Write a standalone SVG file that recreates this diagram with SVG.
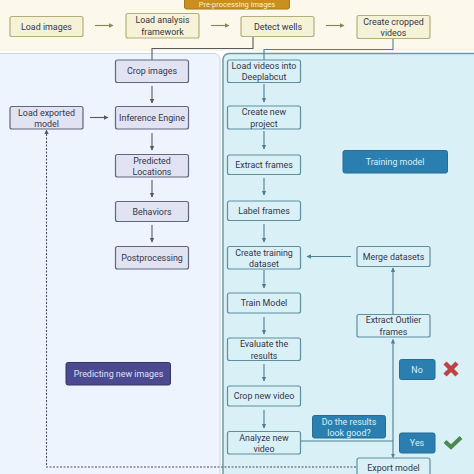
<svg xmlns="http://www.w3.org/2000/svg" width="474" height="474" viewBox="0 0 474 474">
<style>
text{font-family:Roboto,"Liberation Sans",sans-serif;font-size:8.900px;text-anchor:middle;fill:#33364a}
.y{fill:#f5f2d8;stroke:#b4ae78;stroke-width:1.200}
.p{fill:#e1e3f2;stroke:#62667f;stroke-width:1.200}
.b{fill:#daf0f7;stroke:#5f8f9f;stroke-width:1.200}
.l{fill:none;stroke:#57595f;stroke-width:1.100}
.o{fill:none;stroke:#8a8456;stroke-width:1.100}
.t{fill:none;stroke:#4f8091;stroke-width:1.100}
.w{fill:#d6eff9}
.hd{fill:#2a7fb0;stroke:#236d97;stroke-width:1}
</style>
<defs>
<marker id="ay" markerWidth="6" markerHeight="6" refX="4" refY="2.500" orient="auto" markerUnits="userSpaceOnUse"><path d="M0 0.300L4.500 2.500L0 4.700z" fill="#8a8456"/></marker>
<marker id="ag" markerWidth="6" markerHeight="6" refX="4" refY="2.500" orient="auto" markerUnits="userSpaceOnUse"><path d="M0 0.300L4.500 2.500L0 4.700z" fill="#57595f"/></marker>
<marker id="at" markerWidth="6" markerHeight="6" refX="4" refY="2.500" orient="auto" markerUnits="userSpaceOnUse"><path d="M0 0.300L4.500 2.500L0 4.700z" fill="#4f8091"/></marker>
</defs>
<rect width="474" height="474" fill="#fff"/>
<rect x="-5" y="-10" width="484" height="60" rx="6" fill="#fcf9ec" stroke="#f1eeda"/>
<rect x="-5" y="53.500" width="225" height="430" rx="6" fill="#eef4fd" stroke="#c9d5e2"/>
<rect x="223" y="53.500" width="256" height="430" rx="6" fill="#d9f0f7" stroke="#6f98a5" stroke-width="1.500"/>
<g id="connectors">
<path class="o" d="M95 25.500H113" marker-end="url(#ay)"/>
<path class="o" d="M211 25.500H229" marker-end="url(#ay)"/>
<path class="o" d="M326 25.500H344" marker-end="url(#ay)"/>
<path class="l" d="M253 37V48.500H152V60"/>
<path class="t" d="M393 39V49.500H264V60"/>
<path class="l" d="M152 86V103" marker-end="url(#ag)"/>
<path class="l" d="M90 117.500H108" marker-end="url(#ag)"/>
<path class="l" d="M152 133V150" marker-end="url(#ag)"/>
<path class="l" d="M152 180V197" marker-end="url(#ag)"/>
<path class="l" d="M152 225V242" marker-end="url(#ag)"/>
<path class="t" d="M264 84V102" marker-end="url(#at)"/>
<path class="t" d="M264 131V149" marker-end="url(#at)"/>
<path class="t" d="M264 178V195" marker-end="url(#at)"/>
<path class="t" d="M264 224V242" marker-end="url(#at)"/>
<path class="t" d="M264 270V288" marker-end="url(#at)"/>
<path class="t" d="M264 317V334" marker-end="url(#at)"/>
<path class="t" d="M264 364V381" marker-end="url(#at)"/>
<path class="t" d="M264 410V428" marker-end="url(#at)"/>
<path class="t" d="M351 256.500H307" marker-end="url(#at)"/>
<path class="t" d="M393 315V268" marker-end="url(#at)"/>
<path class="t" d="M300 441H393"/>
<path class="t" d="M393 441V457.500" marker-end="url(#at)"/>
<path class="t" d="M393 441V339.500" marker-end="url(#at)"/>
<path d="M356 467H46.500V130" fill="none" stroke="#4a4d63" stroke-width="1.100" stroke-dasharray="2 1.500" marker-end="url(#ag)"/>
</g>
<g id="prep-title"><rect x="184.500" y="-8" width="105" height="17" rx="2" fill="#c98f1f" stroke="#a8771a"/><text x="237" y="6.500" style="fill:#fbeecb;font-size:7.500px">Pre-processing images</text></g>
<g id="load-images"><rect class="y" x="10" y="16.500" width="73" height="20" rx="2"/><text x="46.500" y="29.500">Load images</text></g>
<g id="load-framework"><rect class="y" x="126" y="13.500" width="73" height="24.500" rx="2"/><text x="162.500" y="23">Load analysis</text><text x="162.500" y="34.500">framework</text></g>
<g id="detect-wells"><rect class="y" x="241" y="16.500" width="73" height="20" rx="2"/><text x="278" y="29.500">Detect wells</text></g>
<g id="cropped-videos"><rect class="y" x="357" y="15.500" width="73" height="23" rx="2"/><text x="393.500" y="24.500">Create cropped</text><text x="393.500" y="36">videos</text></g>
<g id="crop-images"><rect class="p" x="115.500" y="60" width="73" height="22.500" rx="2"/><text x="152" y="74">Crop images</text></g>
<g id="load-exported"><rect class="p" x="10" y="106.500" width="73" height="22.500" rx="2"/><text x="46.500" y="115.500">Load exported</text><text x="46.500" y="127">model</text></g>
<g id="inference"><rect class="p" x="115.500" y="106.500" width="73" height="22.500" rx="2"/><text x="152" y="121">Inference Engine</text></g>
<g id="predicted"><rect class="p" x="115.500" y="154.500" width="73" height="22.500" rx="2"/><text x="152" y="163.500">Predicted</text><text x="152" y="174.500">Locations</text></g>
<g id="behaviors"><rect class="p" x="115.500" y="201.500" width="73" height="20" rx="2"/><text x="152" y="214.500">Behaviors</text></g>
<g id="postprocessing"><rect class="p" x="115.500" y="246.500" width="73" height="22.500" rx="2"/><text x="152" y="260.500">Postprocessing</text></g>
<g id="predicting-label"><rect x="66" y="362.500" width="104.500" height="22.500" rx="2" fill="#4b4a91" stroke="#33345f"/><text x="118.500" y="377" style="fill:#dfe0f5">Predicting new images</text></g>
<g id="load-videos"><rect class="b" x="227.500" y="60" width="73" height="22.500" rx="2"/><text x="264" y="68.500">Load videos into</text><text x="264" y="80">Deeplabcut</text></g>
<g id="create-project"><rect class="b" x="227.500" y="106" width="73" height="23" rx="2"/><text x="264" y="115">Create new</text><text x="264" y="126.500">project</text></g>
<g id="extract-frames"><rect class="b" x="227.500" y="155" width="73" height="19.500" rx="2"/><text x="264" y="168">Extract frames</text></g>
<g id="label-frames"><rect class="b" x="227.500" y="201" width="73" height="19.500" rx="2"/><text x="264" y="214">Label frames</text></g>
<g id="training-dataset"><rect class="b" x="227.500" y="246.500" width="73" height="22.500" rx="2"/><text x="264" y="255.500">Create training</text><text x="264" y="267">dataset</text></g>
<g id="train-model"><rect class="b" x="227.500" y="293" width="73" height="20" rx="2"/><text x="264" y="306">Train Model</text></g>
<g id="evaluate"><rect class="b" x="227.500" y="338" width="73" height="22.500" rx="2"/><text x="264" y="347">Evaluate the</text><text x="264" y="358.500">results</text></g>
<g id="crop-video"><rect class="b" x="227.500" y="386" width="73" height="20" rx="2"/><text x="264" y="399">Crop new video</text></g>
<g id="analyze"><rect class="b" x="227.500" y="431.500" width="73" height="22.500" rx="2"/><text x="264" y="440.500">Analyze new</text><text x="264" y="452">video</text></g>
<g id="merge"><rect class="b" x="357" y="246.500" width="73" height="20" rx="2"/><text x="393.500" y="260">Merge datasets</text></g>
<g id="outlier"><rect class="b" x="357" y="314.500" width="73" height="22.500" rx="2"/><text x="393.500" y="323">Extract Outlier</text><text x="393.500" y="334.500">frames</text></g>
<g id="export"><rect class="b" x="357" y="458" width="73" height="22" rx="2"/><text x="393.500" y="471">Export model</text></g>
<g id="training-label"><rect class="hd" x="343" y="150.500" width="104.500" height="22.500" rx="2"/><text x="395" y="164.500" class="w" style="fill:#d6eff9">Training model</text></g>
<g id="question"><rect class="hd" x="312.500" y="415.500" width="73" height="22.500" rx="2"/><text x="349" y="424.500" style="fill:#d6eff9">Do the results</text><text x="349" y="435.500" style="fill:#d6eff9">look good?</text></g>
<g id="no"><rect class="hd" x="399.500" y="359.500" width="35.500" height="20" rx="2"/><text x="417" y="372.500" style="fill:#d6eff9">No</text></g>
<g id="yes"><rect class="hd" x="399.500" y="433" width="35.500" height="20" rx="2"/><text x="417" y="446" style="fill:#d6eff9">Yes</text></g>
<g id="cross"><path d="M445 363L457 375M457 363L445 375" stroke="#bf4343" stroke-width="4.500" fill="none"/></g>
<g id="check"><path d="M445 441.500L451 447L461 437.500" stroke="#4b8a4f" stroke-width="4" fill="none"/></g>
</svg>
